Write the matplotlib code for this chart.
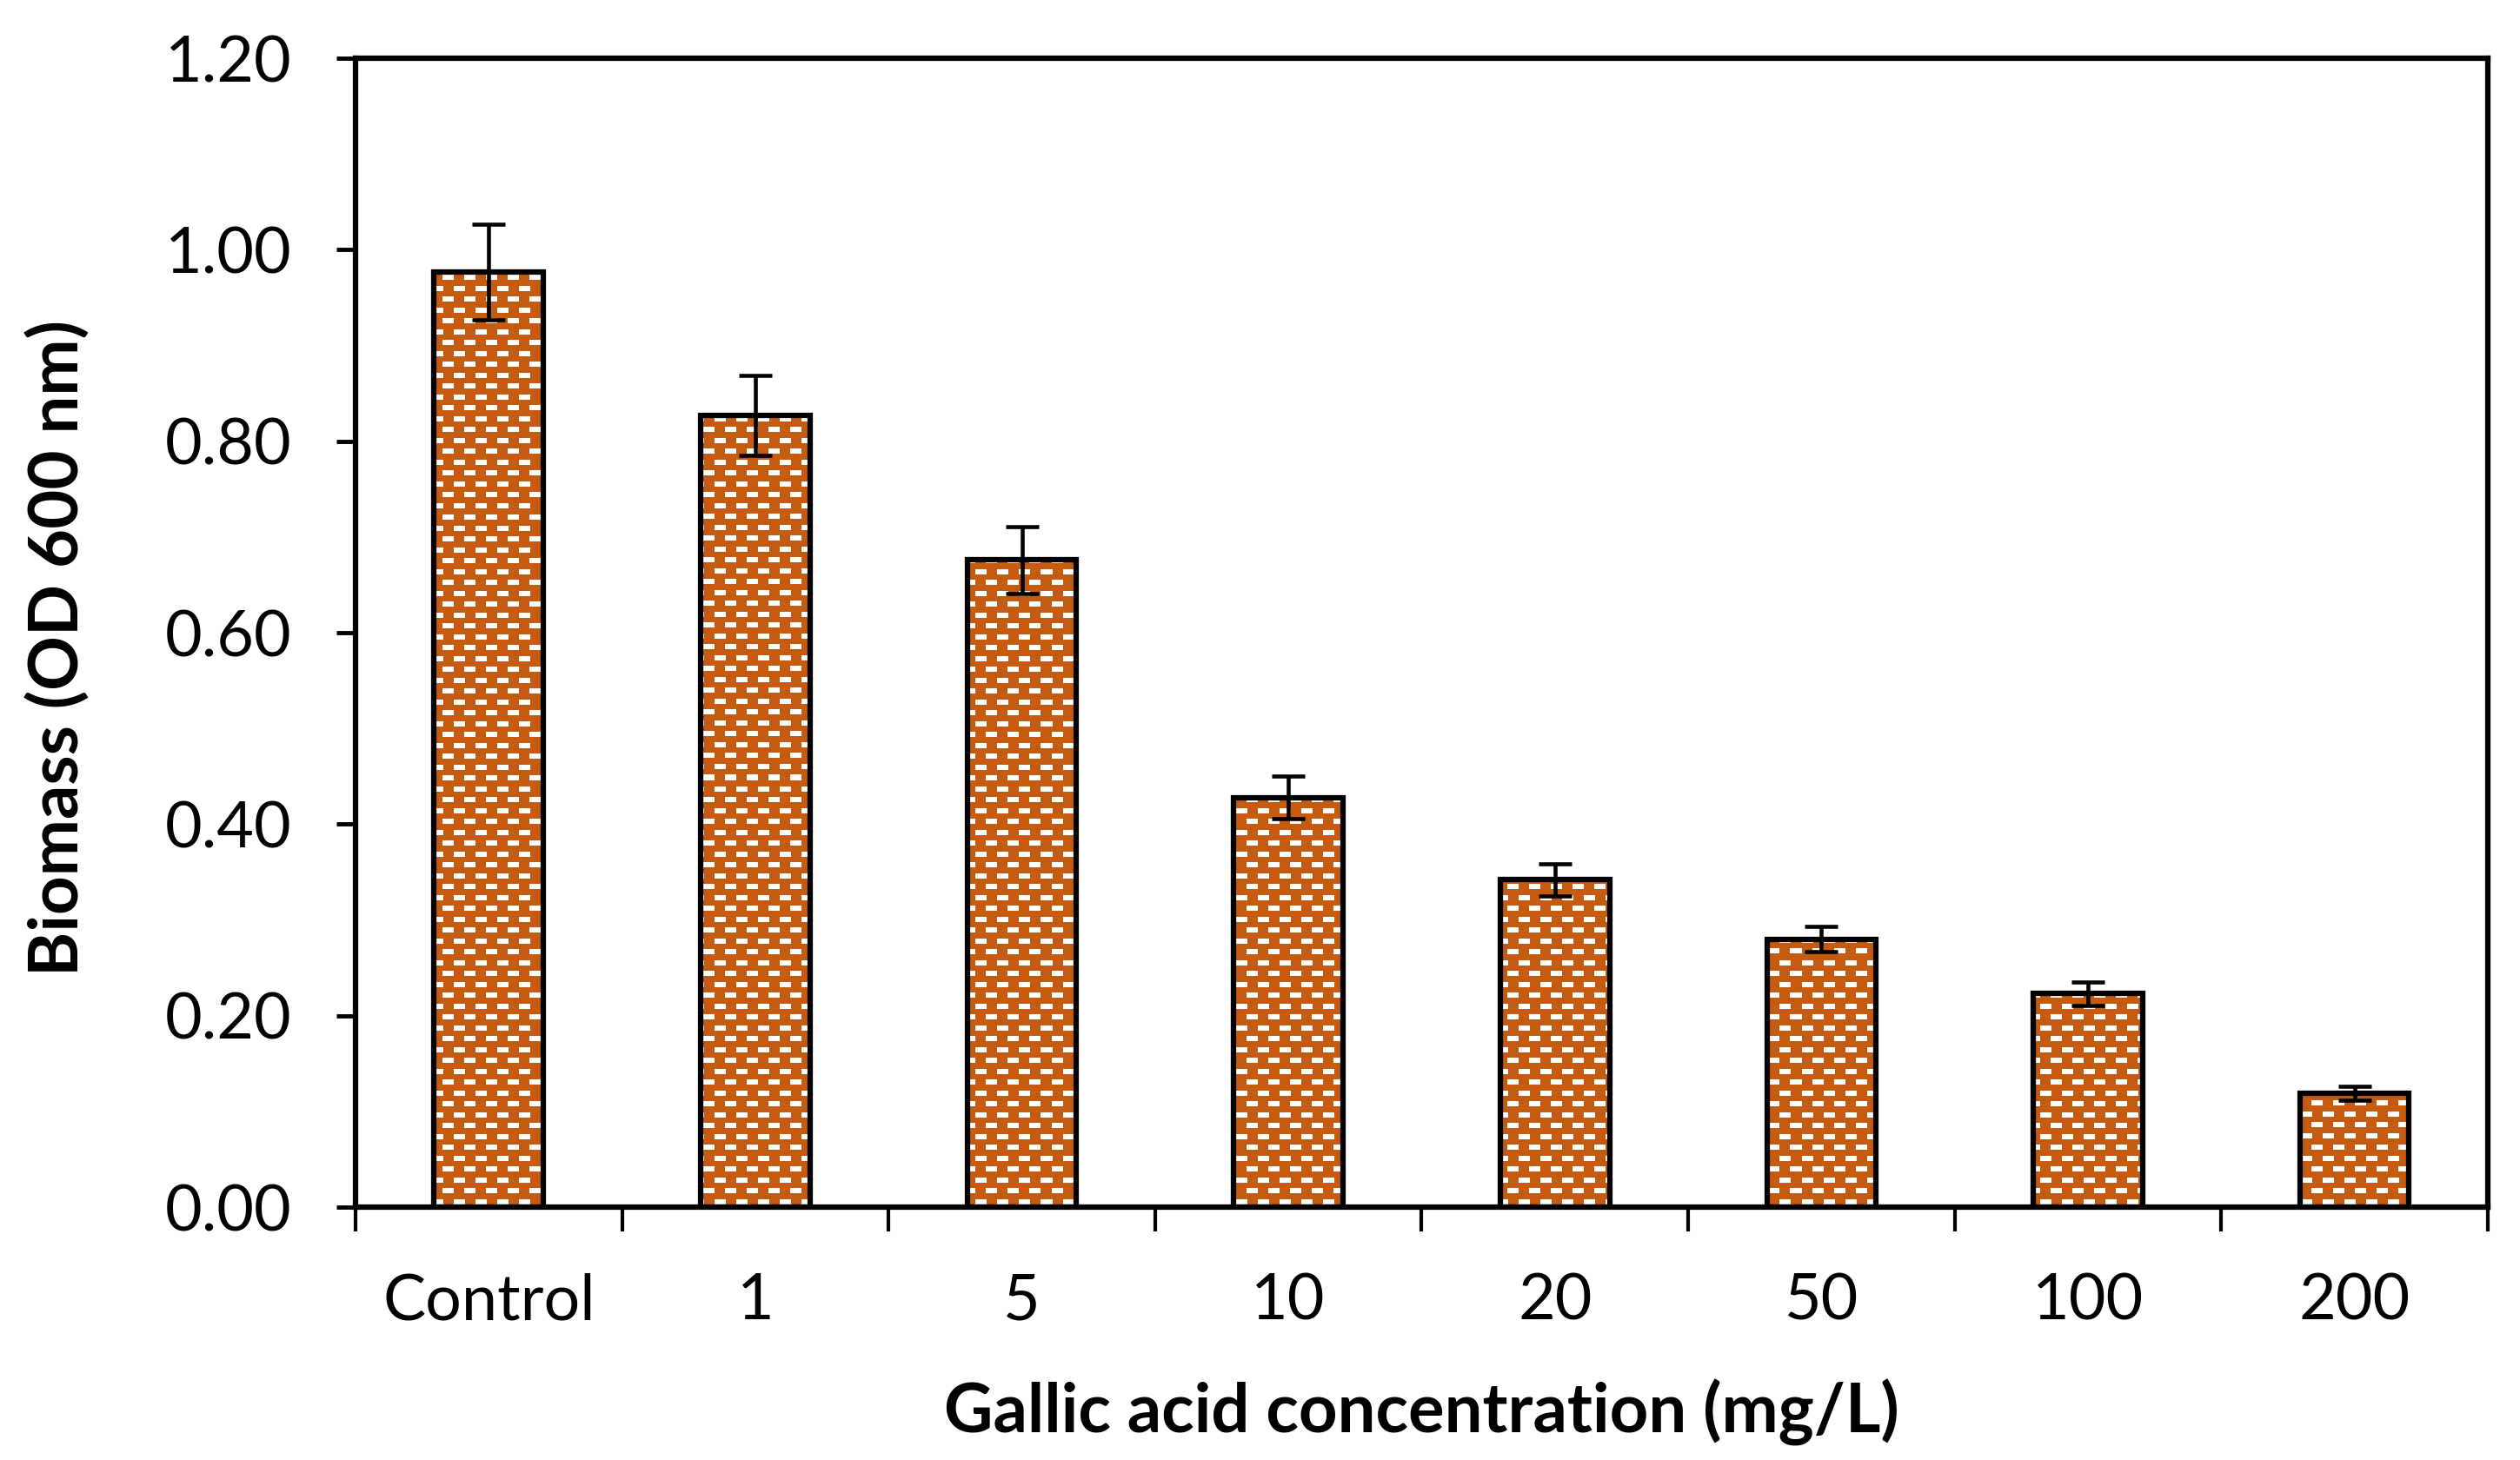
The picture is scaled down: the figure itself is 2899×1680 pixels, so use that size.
import numpy as np
import matplotlib
matplotlib.use('Agg')
import matplotlib.pyplot as plt

plt.rcParams['font.family'] = ['Lato', 'DejaVu Sans']

categories = ['Control', '1', '5', '10', '20', '50', '100', '200']
biomass = [0.977, 0.827, 0.676, 0.428, 0.342, 0.280, 0.223, 0.119]
errors = [0.050, 0.042, 0.035, 0.022, 0.017, 0.013, 0.012, 0.007]
y_ticks = [0.0, 0.2, 0.4, 0.6, 0.8, 1.0, 1.2]

BAR_COLOR = '#C55A11'
AX_POS = [0.1411, 0.1732, 0.8461, 0.7869]


def dash_pattern(w, h):
    # white horizontal dashes on a transparent ground, staggered row to row
    rr, cc = np.mgrid[0:h, 0:w]
    row = (rr * 2) // 25
    in_row = (rr * 2 - row * 25) < 12
    shift = (row % 2) * 25
    dash = in_row & (((cc * 2 + shift) % 50) < 26)
    img = np.zeros((h, w, 4), dtype=np.uint8)
    img[dash] = [255, 255, 255, 255]
    return img


def main():
    fig = plt.figure(figsize=(28.99, 16.80), dpi=100)
    ax = fig.add_axes(AX_POS)

    x = np.arange(len(categories))
    xlim = (-0.5, len(categories) - 0.5)
    ylim = (0, 1.2)

    bars = ax.bar(x, biomass, width=0.41, color=BAR_COLOR, zorder=2)

    w_px = int(round(fig.get_figwidth() * fig.dpi * AX_POS[2]))
    h_px = int(round(fig.get_figheight() * fig.dpi * AX_POS[3]))
    pattern = dash_pattern(w_px, h_px)
    for b in bars:
        im = ax.imshow(pattern, extent=(xlim[0], xlim[1], ylim[0], ylim[1]),
                       aspect='auto', interpolation='nearest', zorder=2.5)
        im.set_clip_path(b)

    ax.bar(x, biomass, width=0.41, fill=False, edgecolor='black',
           linewidth=4.5, zorder=3)
    ax.errorbar(x, biomass, yerr=errors, fmt='none', ecolor='black',
                elinewidth=3.3, capsize=14, capthick=3.3, zorder=4)

    ax.set_xlim(*xlim)
    ax.set_ylim(*ylim)
    ax.set_yticks(y_ticks)
    ax.set_yticklabels(['%.2f' % v for v in y_ticks])
    ax.set_xticks(x)
    ax.set_xticklabels(categories)
    ax.set_xticks(np.arange(xlim[0], xlim[1] + 0.01, 1), minor=True)

    ax.tick_params(axis='x', which='major', length=0, pad=54, labelsize=53)
    ax.tick_params(axis='x', which='minor', length=20, width=3, direction='out')
    ax.tick_params(axis='y', length=16, width=3.5, pad=37, labelsize=53)
    for s in ax.spines.values():
        s.set_linewidth(4.5)

    ax.set_xlabel('Gallic acid concentration (mg/L)', fontsize=56,
                  fontweight='bold', va='center')
    ax.xaxis.set_label_coords(0.5, -0.179)
    ax.set_ylabel('Biomass (OD 600 nm)', fontsize=56, fontweight='bold',
                  va='center')
    ax.yaxis.set_label_coords(-0.1394, 0.487)

    fig.savefig('out.png', dpi=100)


if __name__ == '__main__':
    main()
